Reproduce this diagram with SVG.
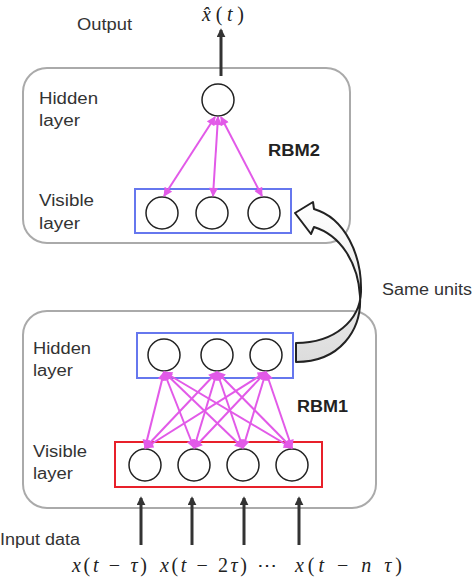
<svg xmlns="http://www.w3.org/2000/svg" width="474" height="580" viewBox="0 0 474 580">
<defs>
<style>
.lbl{font-family:"Liberation Sans",Arial,sans-serif;font-size:16px;fill:#333}
.bold{font-family:"Liberation Sans",Arial,sans-serif;font-size:16px;font-weight:bold;fill:#222}
.math{font-family:"Liberation Serif","Times New Roman",serif;font-size:20px;fill:#222}
.rbm{fill:none;stroke:#aaa;stroke-width:2}
.unit{fill:#fff;stroke:#222;stroke-width:1.5}
.pink{stroke:#e25ae8;stroke-width:2;fill:none;marker-start:url(#ph);marker-end:url(#ph)}
.blk{stroke:#333;stroke-width:3;fill:none;marker-end:url(#bh)}
</style>
<marker id="ph" viewBox="0 0 10 10" refX="9" refY="5" markerWidth="5" markerHeight="4.5" orient="auto-start-reverse" markerUnits="strokeWidth">
<path d="M0,0 L10,5 L0,10 z" fill="#e25ae8"/>
</marker>
<marker id="bh" viewBox="0 0 10 10" refX="8" refY="5" markerWidth="3" markerHeight="3" orient="auto" markerUnits="strokeWidth">
<path d="M0,0 L10,5 L0,10 z" fill="#333"/>
</marker>
<linearGradient id="cg" x1="0" y1="0" x2="0" y2="1">
<stop offset="0" stop-color="#ffffff"/>
<stop offset="1" stop-color="#dcdcdc"/>
</linearGradient>
</defs>
<rect width="474" height="580" fill="#fff"/>

<g id="rbm2">
<rect class="rbm" x="23" y="68" width="327" height="175" rx="24"/>
<text class="lbl" x="39" y="104" textLength="59" lengthAdjust="spacingAndGlyphs">Hidden</text>
<text class="lbl" x="39" y="126" textLength="41" lengthAdjust="spacingAndGlyphs">layer</text>
<text class="lbl" x="39" y="206" textLength="55" lengthAdjust="spacingAndGlyphs">Visible</text>
<text class="lbl" x="39" y="229" textLength="41" lengthAdjust="spacingAndGlyphs">layer</text>
<text class="bold" x="268" y="156" textLength="52" lengthAdjust="spacingAndGlyphs">RBM2</text>
</g>
<g id="rbm2-hidden"><circle class="unit" cx="218" cy="100" r="16"/></g>
<g id="rbm2-visible">
<rect x="135" y="189" width="156" height="44" fill="none" stroke="#6677ee" stroke-width="2"/>
<circle class="unit" cx="162" cy="213" r="16"/>
<circle class="unit" cx="212" cy="213" r="16"/>
<circle class="unit" cx="264" cy="213" r="16"/>
</g>

<g id="rbm1">
<rect class="rbm" x="23" y="311" width="353" height="197" rx="24"/>
<text class="lbl" x="33" y="354" textLength="58" lengthAdjust="spacingAndGlyphs">Hidden</text>
<text class="lbl" x="33" y="376" textLength="40" lengthAdjust="spacingAndGlyphs">layer</text>
<text class="lbl" x="33" y="457" textLength="54" lengthAdjust="spacingAndGlyphs">Visible</text>
<text class="lbl" x="33" y="479" textLength="40" lengthAdjust="spacingAndGlyphs">layer</text>
<text class="bold" x="297" y="412" textLength="51" lengthAdjust="spacingAndGlyphs">RBM1</text>
</g>
<g id="rbm1-hidden">
<rect x="137" y="333" width="156" height="45" fill="none" stroke="#6677ee" stroke-width="2"/>
<circle class="unit" cx="164" cy="355" r="16"/>
<circle class="unit" cx="217" cy="355" r="16"/>
<circle class="unit" cx="266" cy="355" r="16"/>
</g>
<g id="rbm1-visible">
<rect x="115" y="442" width="207" height="45" fill="none" stroke="#e8202a" stroke-width="2"/>
<circle class="unit" cx="145" cy="465" r="16"/>
<circle class="unit" cx="194" cy="465" r="16"/>
<circle class="unit" cx="243" cy="465" r="16"/>
<circle class="unit" cx="292" cy="465" r="16"/>
</g>

<g id="connectors">
<line class="blk" x1="221" y1="76" x2="221" y2="30"/>
<line class="pink" x1="215" y1="117" x2="164" y2="196"/>
<line class="pink" x1="218" y1="117" x2="213" y2="196"/>
<line class="pink" x1="221" y1="117" x2="262" y2="196"/>

<line class="pink" x1="164" y1="372" x2="145" y2="448"/>
<line class="pink" x1="164" y1="372" x2="194" y2="448"/>
<line class="pink" x1="164" y1="372" x2="243" y2="448"/>
<line class="pink" x1="164" y1="372" x2="292" y2="448"/>
<line class="pink" x1="217" y1="372" x2="145" y2="448"/>
<line class="pink" x1="217" y1="372" x2="194" y2="448"/>
<line class="pink" x1="217" y1="372" x2="243" y2="448"/>
<line class="pink" x1="217" y1="372" x2="292" y2="448"/>
<line class="pink" x1="266" y1="372" x2="145" y2="448"/>
<line class="pink" x1="266" y1="372" x2="194" y2="448"/>
<line class="pink" x1="266" y1="372" x2="243" y2="448"/>
<line class="pink" x1="266" y1="372" x2="292" y2="448"/>

<line class="blk" x1="141" y1="545" x2="141" y2="498"/>
<line class="blk" x1="192" y1="545" x2="192" y2="498"/>
<line class="blk" x1="244" y1="545" x2="244" y2="498"/>
<line class="blk" x1="299" y1="545" x2="299" y2="498"/>

<path d="M295,213 L313,202 L314,209 C345,218 362,255 361,292 C360,320 335,343 296,343 L296,362 C340,362 362,330 360,296 C358,262 340,235 314,227 L311,234 Z" fill="url(#cg)" stroke="#222" stroke-width="2" stroke-linejoin="round"/>
</g>

<g id="labels">
<text class="lbl" x="77" y="30" textLength="55" lengthAdjust="spacingAndGlyphs">Output</text>
<text class="math" x="202" y="21" textLength="42" lengthAdjust="spacing"><tspan font-style="italic">x̂</tspan>(<tspan font-style="italic">t</tspan>)</text>
<text class="lbl" x="382" y="295" textLength="90" lengthAdjust="spacingAndGlyphs">Same units</text>
<text class="lbl" x="0" y="545" textLength="80" lengthAdjust="spacingAndGlyphs">Input data</text>
<text class="math" x="72" y="572" textLength="75" lengthAdjust="spacing"><tspan font-style="italic">x</tspan>(<tspan font-style="italic">t</tspan> − <tspan font-style="italic">τ</tspan>)</text>
<text class="math" x="160" y="572" textLength="87" lengthAdjust="spacing"><tspan font-style="italic">x</tspan>(<tspan font-style="italic">t</tspan> − 2<tspan font-style="italic">τ</tspan>)</text>
<text class="math" x="257" y="572" font-family="DejaVu Serif,serif" font-size="18">⋯</text>
<text class="math" x="295" y="572" textLength="107" lengthAdjust="spacing"><tspan font-style="italic">x</tspan>(<tspan font-style="italic">t</tspan> − <tspan font-style="italic">n</tspan> <tspan font-style="italic">τ</tspan>)</text>
</g>
</svg>
